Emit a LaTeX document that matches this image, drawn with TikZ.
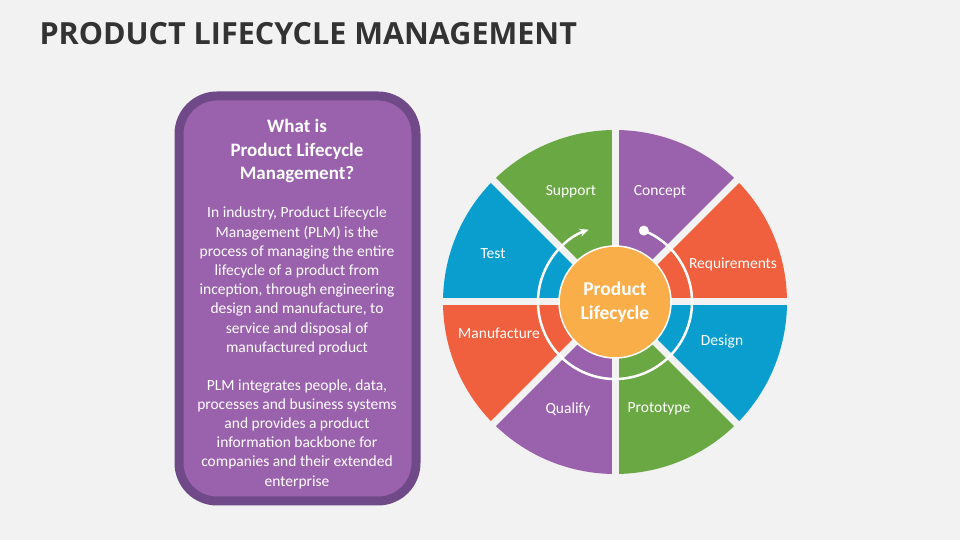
\documentclass[tikz,border=0pt]{standalone}
\usepackage{fontspec}
\setmainfont{Carlito}
\newfontfamily\titlefont{Open Sans}
\usetikzlibrary{arrows.meta,calc}
\definecolor{bg}{HTML}{F2F2F2}
\definecolor{cpur}{HTML}{9A62AC}
\definecolor{cpurd}{HTML}{704A88}
\definecolor{cred}{HTML}{F0603E}
\definecolor{cblue}{HTML}{0A9ECF}
\definecolor{cgreen}{HTML}{6AA844}
\definecolor{corange}{HTML}{F9AE4A}
\definecolor{ctitle}{HTML}{333333}
\tikzset{seglabel/.style={text=white,font=\fontsize{15.5}{17}\selectfont},
 paneltext/.style={text=white,align=center,font=\fontsize{15.5}{19.2}\selectfont}}
\begin{document}
\begin{tikzpicture}[x=1pt,y=1pt]
\fill[bg] (0,0) rectangle (960,540);
\useasboundingbox (0,0) rectangle (960,540);
\node[anchor=west,text=ctitle,font=\titlefont\bfseries\fontsize{30.5}{33}\selectfont] (title) at (36,506) {PRODUCT LIFECYCLE MANAGEMENT};
% panel
\node[draw=cpurd,line width=9pt,fill=cpur,rounded corners=38pt,minimum width=237pt,minimum height=405pt] (panel) at (297.5,241.5) {};
\node[text=white,align=center,font=\bfseries\fontsize{19}{23.5}\selectfont] (head) at (297,389) {What is\\Product Lifecycle\\ Management?};
\node[paneltext] (p1) at (297,259) {In industry, Product Lifecycle\\Management (PLM) is the\\process of managing the entire\\lifecycle of a product from\\inception, through engineering\\design and manufacture, to\\service and disposal of\\manufactured product};
\node[paneltext] (p2) at (297,106) {PLM integrates people, data,\\processes and business systems\\and provides a product\\information backbone for\\companies and their extended\\enterprise};
% wheel
\coordinate (c) at (615,238);
\foreach \a/\col in {45/cpur,0/cred,-45/cblue,-90/cgreen,-135/cpur,180/cred,135/cblue,90/cgreen}{
  \fill[\col] (c) -- ++(\a:172) arc[start angle=\a,end angle=\a+45,radius=172] -- cycle;
}
\foreach \a in {0,45,90,135}{
  \draw[bg,line width=7pt] ($(c)+(\a:175)$) -- ($(c)+(\a+180:175)$);
}
\draw[white,line width=2.5pt,-{Stealth[length=9pt,width=8pt]}] ($(c)+(68:77)$) arc[start angle=68,end angle=-250,radius=77];
\fill[white] ($(c)+(68:77)$) circle (5pt);
\node[circle,fill=corange,draw=white,line width=1.5pt,minimum size=112pt,text=white,align=center,font=\bfseries\fontsize{19.5}{24}\selectfont] (hub) at (c) {Product\\Lifecycle};
\node[seglabel] (s1) at (660,348) {Concept};
\node[seglabel] (s2) at (733,276) {Requirements};
\node[seglabel] (s3) at (722,198) {Design};
\node[seglabel] (s4) at (659,131) {Prototype};
\node[seglabel] (s5) at (568,131) {Qualify};
\node[seglabel] (s6) at (499,207) {Manufacture};
\node[seglabel] (s7) at (493,286) {Test};
\node[seglabel] (s8) at (571,348) {Support};
\end{tikzpicture}
\end{document}
